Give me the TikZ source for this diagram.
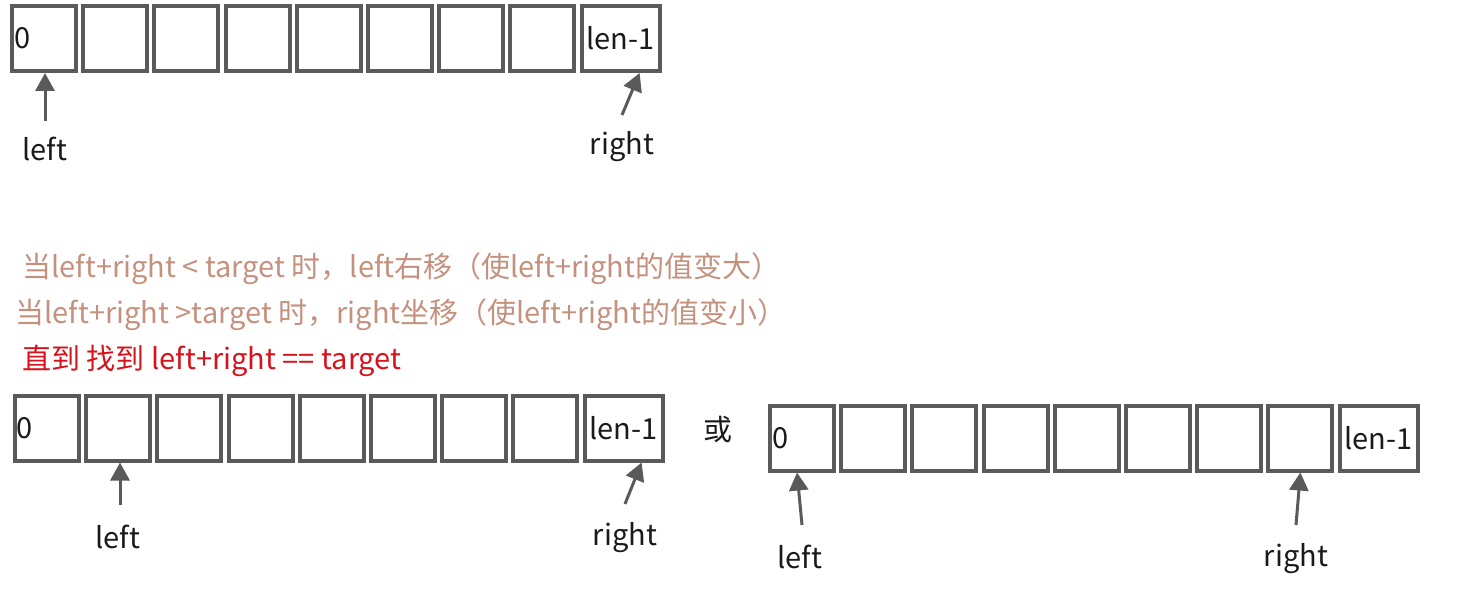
\documentclass[tikz,border=0pt]{standalone}
\usepackage{fontspec}
\setmainfont{Noto Sans CJK SC}
\usepackage{tikz}
\usetikzlibrary{arrows.meta,positioning}
\definecolor{edge}{HTML}{5A5A5A}
\definecolor{note}{HTML}{C4917E}
\definecolor{goal}{HTML}{D6131C}
\definecolor{ink}{HTML}{1A1A1A}
\tikzset{
  cell/.style={draw=edge, line width=2pt, minimum width=32pt, minimum height=32.5pt, inner sep=1pt, text=ink},
  zerocell/.style={cell, text width=30pt, align=left},
  endcell/.style={cell, minimum width=39pt},
  ptr/.style={-{Triangle[length=9pt,width=9.5pt]}, draw=edge, line width=1.5pt},
  tag/.style={anchor=base, text=ink, inner sep=0pt},
  cond/.style={anchor=base west, inner sep=0pt}
}

\begin{document}
\begin{tikzpicture}[x=0.5pt, y=-0.5pt, font=\fontsize{14.5pt}{17pt}\selectfont]
\useasboundingbox (0,0) rectangle (1461,593);
% start: left = 0, right = len-1
\node[zerocell, anchor=west] (a0) at (10,38.5) {0};
\foreach \i [remember=\i as \p (initially 0)] in {1,...,7}
  \node[cell, right=1.6pt of a\p] (a\i) {};
\node[endcell, right=1.6pt of a7] (a8) {len-1};
\node[tag] (al) at (45,161) {left};
\node[tag] (ar) at (622,155) {right};
\coordinate (alt) at (45,121);
\coordinate (art) at (622,115);
\draw[ptr] (alt) -- (alt |- a0.south);
\draw[ptr] (art) -- ([xshift=9.5pt]a8.south);

% rules
\node[cond, text=note] (s1) at (22,278) {当left+right < target 时，left右移（使left+right的值变大）};
\node[cond, text=note] (s2) at (15,323) {当left+right >target 时，right坐移（使left+right的值变小）};
\node[cond, text=goal] (s3) at (22,369) {直到 找到 left+right == target};

% left moved
\node[zerocell, anchor=west] (b0) at (13,428) {0};
\foreach \i [remember=\i as \p (initially 0)] in {1,...,7}
  \node[cell, right=1.6pt of b\p] (b\i) {};
\node[endcell, right=1.6pt of b7] (b8) {len-1};
\node[tag] (bl) at (118,548) {left};
\node[tag] (br) at (625,545) {right};
\coordinate (blt) at (120,505);
\coordinate (brt) at (625,504);
\draw[ptr] (blt) -- (blt |- b1.south);
\draw[ptr] (brt) -- ([xshift=9pt]b8.south);

\node[text=ink] (or) at (718,430) {或};

% right moved
\node[zerocell, anchor=west] (c0) at (768,438) {0};
\foreach \i [remember=\i as \p (initially 0)] in {1,...,7}
  \node[cell, right=1.6pt of c\p] (c\i) {};
\node[endcell, right=1.6pt of c7] (c8) {len-1};
\node[tag] (cl) at (800,568) {left};
\node[tag] (cr) at (1296,566) {right};
\coordinate (clt) at (802,525);
\coordinate (crt) at (1296,525);
\draw[ptr] (clt) -- ([xshift=-2.5pt]c0.south);
\draw[ptr] (crt) -- (c7.south);
\end{tikzpicture}
\end{document}
